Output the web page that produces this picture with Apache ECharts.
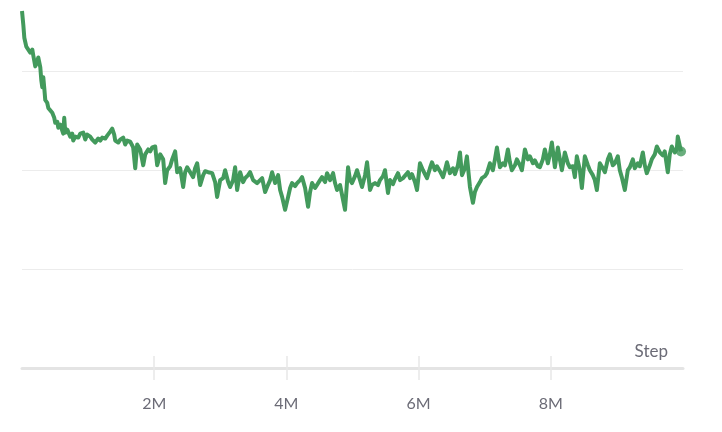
<!DOCTYPE html>
<html>
<head>
<meta charset="utf-8">
<script src="https://cdn.jsdelivr.net/npm/echarts@6/dist/echarts.min.js"></script>
<style>
html,body{margin:0;padding:0;background:#fff;}
#chart{width:722px;height:432px;}
</style>
</head>
<body>
<div id="chart"></div>
<script>
// Step in millions
const steps = [
0.00,0.02,0.035,0.05,0.065,0.095,0.125,0.156,0.171,0.201,0.231,0.246,0.277,0.292,0.307,0.322,0.337,0.352,0.382,0.398,
0.428,0.458,0.488,0.503,0.534,0.549,0.579,0.609,0.624,0.639,0.655,0.685,0.730,0.760,0.775,0.806,0.851,0.881,0.927,0.957,
0.987,1.032,1.063,1.108,1.153,1.184,1.214,1.259,1.289,1.335,1.365,1.395,1.410,1.440,1.456,1.486,1.531,1.561,1.592,1.637,
1.682,1.713,1.743,1.788,1.834,1.864,1.909,1.940,1.970,2.015,2.045,2.091,2.136,2.166,2.196,2.242,2.272,2.317,2.348,2.393,
2.438,2.468,2.499,2.544,2.589,2.619,2.650,2.695,2.741,2.771,2.816,2.877,2.922,2.952,2.998,3.043,3.073,3.119,3.149,3.194,
3.224,3.255,3.300,3.345,3.376,3.421,3.451,3.497,3.557,3.602,3.633,3.678,3.708,3.754,3.784,3.829,3.875,3.905,3.935,3.980,
4.026,4.056,4.086,4.131,4.162,4.207,4.237,4.283,4.328,4.358,4.388,4.434,4.464,4.509,4.539,4.585,4.615,4.661,4.706,4.736,
4.766,4.812,4.842,4.887,4.933,4.963,4.993,5.038,5.069,5.114,5.144,5.190,5.220,5.265,5.295,5.341,5.386,5.416,5.462,5.492,
5.537,5.568,5.613,5.643,5.688,5.719,5.764,5.794,5.839,5.870,5.900,5.945,5.976,6.021,6.066,6.096,6.127,6.172,6.202,6.248,
6.278,6.323,6.369,6.399,6.429,6.474,6.520,6.550,6.595,6.626,6.656,6.701,6.731,6.777,6.822,6.852,6.883,6.928,6.958,7.004,
7.034,7.079,7.124,7.155,7.185,7.230,7.275,7.306,7.351,7.381,7.411,7.457,7.487,7.533,7.563,7.608,7.653,7.684,7.729,7.759,
7.804,7.835,7.880,7.910,7.956,7.986,8.016,8.062,8.107,8.137,8.168,8.213,8.258,8.289,8.334,8.364,8.394,8.440,8.470,8.515,
8.561,8.591,8.636,8.666,8.697,8.742,8.787,8.818,8.863,8.893,8.938,8.969,9.014,9.044,9.074,9.120,9.165,9.196,9.241,9.271,
9.316,9.347,9.392,9.422,9.452,9.498,9.528,9.573,9.604,9.649,9.694,9.724,9.770,9.800,9.830,9.876,9.906,9.921,9.970
];
const values = [
361,347,334,332,325,327,319,322,316,305,310,314,304,291,284,294,283,271,268,263,
265,258,253,248,249,243,246,244,237,253,238,241,234,237,230,234,233,237,238,231,
236,234,231,228,232,230,233,232,235,239,242,236,230,232,228,231,233,226,230,229,
223,202,226,221,205,216,221,219,223,224,205,216,211,187,200,204,211,219,198,202,
183,198,203,198,193,202,207,185,195,199,198,197,188,173,190,192,200,188,183,190,
203,180,198,188,192,195,198,190,187,190,192,178,183,190,198,187,195,180,173,160,
173,182,187,184,187,190,193,182,163,178,187,182,183,190,193,188,197,190,197,187,
180,185,187,160,203,190,187,194,200,190,183,195,208,180,185,187,185,190,194,200,
177,190,186,191,197,190,192,194,198,192,196,188,180,207,200,196,192,202,208,200,
204,199,193,200,208,197,202,196,205,218,195,202,214,183,167,178,183,188,192,194,
197,207,200,211,223,203,207,205,221,208,200,205,211,205,200,221,211,214,207,210,
204,203,211,221,207,216,228,203,223,211,200,218,207,203,204,193,214,200,182,214,
205,200,195,190,180,207,202,198,211,216,205,207,214,200,193,180,200,203,211,202,
207,204,218,205,197,205,211,216,224,218,215,219,198,216,224,218,221,234,219
];
const tickSteps = [2, 4, 6, 8];
const xName = 'Step';

const data = steps.map((s, i) => [s, values[i]]);
const last = data[data.length - 1];

const chart = echarts.init(document.getElementById('chart'), null, {renderer: 'canvas'});
const labelFont = {fontFamily: 'Lato, "Noto Sans", sans-serif', fontSize: 16, color: '#6b6b76'};
const tickStyle = {color: '#e8e8e8', width: 1.5};

chart.setOption({
  animation: false,
  grid: {left: 22, right: 39, top: 10, bottom: 64, containLabel: false},
  xAxis: [{
    type: 'value', min: 0, max: 10, interval: 2,
    position: 'bottom',
    name: xName, nameLocation: 'end', nameGap: -15,
    nameTextStyle: Object.assign({}, labelFont, {fontSize: 17, align: 'right', verticalAlign: 'bottom', padding: [0, 0, 8, 0]}),
    axisLine: {show: true, lineStyle: {color: '#e4e4e4', width: 3}},
    axisTick: {show: true, length: 12, customValues: tickSteps, lineStyle: tickStyle},
    axisLabel: Object.assign({}, labelFont, {margin: 28, customValues: tickSteps, formatter: v => v + 'M'}),
    splitLine: {show: false}
  }, {
    type: 'value', min: 0, max: 10, interval: 2,
    position: 'bottom',
    axisLine: {show: false},
    axisTick: {show: true, inside: true, length: 12, customValues: tickSteps, lineStyle: tickStyle},
    axisLabel: {show: false},
    splitLine: {show: false}
  }],
  yAxis: {
    type: 'value', min: 0, max: 362, interval: 100,
    axisLine: {show: false}, axisTick: {show: false}, axisLabel: {show: false},
    splitLine: {show: true, showMinLine: false, showMaxLine: false, lineStyle: {color: '#ececec', width: 1}}
  },
  series: [{
    type: 'line', xAxisIndex: 0, data: data, showSymbol: false, smooth: false,
    lineStyle: {color: '#439a5c', width: 4, join: 'round'},
    itemStyle: {color: '#439a5c'}, z: 3
  }, {
    type: 'scatter', xAxisIndex: 0, data: [last], symbolSize: 10,
    itemStyle: {color: '#439a5c'}, z: 4
  }]
});
</script>
</body>
</html>
